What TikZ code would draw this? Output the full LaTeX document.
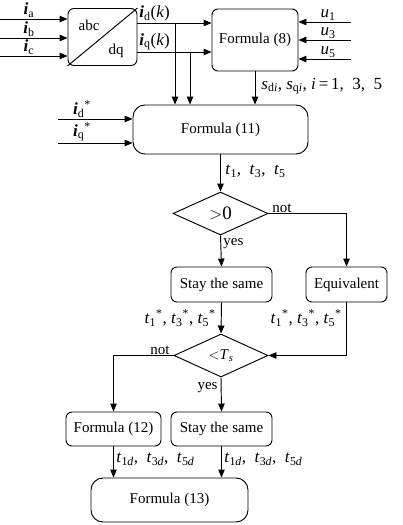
\documentclass[tikz,border=0pt]{standalone}
\usepackage{fontspec}
\setmainfont{Liberation Serif}
\usetikzlibrary{shapes.geometric,arrows.meta}
\newcommand{\bi}{\textbf{\textit{i}}}
\newcommand{\tv}[1]{\textit{t}\textsubscript{#1}}
\newcommand{\ts}[1]{\textit{t}\textsubscript{#1}\textsuperscript{*}}
\newcommand{\td}[1]{\textit{t}\textsubscript{#1\textit{d}}}
\begin{document}
\begin{tikzpicture}[x=1pt,y=-1pt,font=\fontsize{15}{18}\selectfont,
  line width=0.95pt,
  arr/.style={-{Triangle[length=8pt,width=6.5pt]}},
  box/.style={draw, rounded corners=6pt, inner sep=0pt, align=center},
  bigbox/.style={box, rounded corners=12pt},
  dia/.style={draw, diamond, aspect=2.2, inner sep=0pt},
  lab/.style={inner sep=1pt, font=\fontsize{17}{20}\selectfont}]
\useasboundingbox (0,0) rectangle (403,525);
% nodes
\node[box, minimum width=69pt, minimum height=57pt] (abc) at (102.5,37) {};
\draw (abc.south west) -- (abc.north east);
\node (abct) at (89,25) {abc};
\node (dqt) at (116,51) {dq};
\node[box, minimum width=86pt, minimum height=62pt] (f8) at (255,40) {Formula (8)};
\node[bigbox, minimum width=175pt, minimum height=49pt] (f11) at (220.5,129.5) {Formula (11)};
\node[dia, minimum width=95pt, minimum height=43pt] (d1) at (220.5,213.5) {\fontsize{19}{20}\selectfont$>$0};
\node[box, minimum width=101pt, minimum height=35pt] (s1) at (221.5,284.5) {Stay the same};
\node[box, minimum width=81pt, minimum height=35pt] (eq) at (346.5,284.5) {Equivalent};
\node[dia, minimum width=94pt, minimum height=43pt] (d2) at (221,355.5) {$<$\textit{T}\textsubscript{\textit{s}}};
\node[box, minimum width=95pt, minimum height=34pt] (f12) at (113.5,429) {Formula (12)};
\node[box, minimum width=101pt, minimum height=34pt] (s2) at (221.5,429) {Stay the same};
\node[bigbox, minimum width=157pt, minimum height=44pt] (f13) at (169.5,500) {Formula (13)};
% inputs
\coordinate (ia) at (0,19);
\coordinate (ib) at (0,38);
\coordinate (ic) at (0,56);
\draw[arr] (ia) -- (ia -| abc.west);
\draw[arr] (ib) -- (ib -| abc.west);
\draw[arr] (ic) -- (ic -| abc.west);
\node[lab, anchor=south] (la) at (29,19) {\bi\textsubscript{a}};
\node[lab, anchor=south] (lb) at (29,38) {\bi\textsubscript{b}};
\node[lab, anchor=south] (lc) at (29,56) {\bi\textsubscript{c}};
% id iq
\coordinate (idk) at (137,23);
\coordinate (iqk) at (137,52);
\draw[arr] (idk) -- (idk -| f8.west);
\draw[arr] (iqk) -- (iqk -| f8.west);
\node[lab, anchor=south west] (lid) at (138,23) {\bi\textsubscript{d}(\textit{k})};
\node[lab, anchor=south west] (liq) at (138,52) {\bi\textsubscript{q}(\textit{k})};
\coordinate (dr1) at (175,23);
\coordinate (dr2) at (190,52);
\draw[arr] (dr1) -- (dr1 |- f11.north);
\draw[arr] (dr2) -- (dr2 |- f11.north);
% u inputs
\coordinate (u1) at (351,22);
\coordinate (u3) at (351,40);
\coordinate (u5) at (351,59);
\draw[arr] (u1) -- (u1 -| f8.east);
\draw[arr] (u3) -- (u3 -| f8.east);
\draw[arr] (u5) -- (u5 -| f8.east);
\node[lab, anchor=south] (lu1) at (328,22) {\textit{u}\textsubscript{1}};
\node[lab, anchor=south] (lu3) at (328,40) {\textit{u}\textsubscript{3}};
\node[lab, anchor=south] (lu5) at (328,59) {\textit{u}\textsubscript{5}};
\draw[arr] (f8.south) -- (f8.south |- f11.north);
\node[lab, anchor=west] (ls) at (260,86) {\textit{s}\textsubscript{d\textit{i}}, \textit{s}\textsubscript{q\textit{i}}, \textit{i}\,=\,1,\ \ 3,\ \ 5};
% id* iq*
\coordinate (ids) at (58,119);
\coordinate (iqs) at (58,143);
\draw[arr] (ids) -- (ids -| f11.west);
\draw[arr] (iqs) -- (iqs -| f11.west);
\node[lab, anchor=south] (lids) at (82,119) {\bi\textsubscript{d}\textsuperscript{*}};
\node[lab, anchor=south] (liqs) at (82,143) {\bi\textsubscript{q}\textsuperscript{*}};
% flow
\draw[arr] (f11.south) -- (d1.north);
\node[lab, anchor=west] (lt) at (224,171) {\tv1,\ \ \tv3,\ \ \tv5};
\coordinate (c1) at (eq.north |- d1.east);
\draw[arr] (d1.east) -- (c1) -- (eq.north);
\node[lab, anchor=south west, font=\fontsize{15}{18}\selectfont] (n1) at (271,214) {not};
\draw[arr] (d1.south) -- (s1.north);
\node[lab, anchor=west, font=\fontsize{15}{18}\selectfont] (y1) at (222,244) {yes};
\draw[arr] (s1.south) -- (d2.north);
\node[lab, anchor=east] (lts1) at (217,318) {\ts1,\ \ts3,\ \ts5};
\coordinate (c2) at (eq.south |- d2.east);
\draw[arr] (eq.south) -- (c2) -- (d2.east);
\node[lab, anchor=east] (lts2) at (343,318) {\ts1,\ \ts3,\ \ts5};
\coordinate (c3) at (f12.north |- d2.west);
\draw[arr] (d2.west) -- (c3) -- (f12.north);
\node[lab, anchor=south east, font=\fontsize{15}{18}\selectfont] (n2) at (171,356) {not};
\draw[arr] (d2.south) -- (s2.north);
\node[lab, anchor=east, font=\fontsize{15}{18}\selectfont] (y2) at (219,388) {yes};
\draw[arr] (f12.south) -- (f12.south |- f13.north);
\draw[arr] (s2.south) -- (s2.south |- f13.north);
\node[lab, anchor=west] (ld1) at (115,459) {\td1,\ \ \td3,\ \ \td5};
\node[lab, anchor=west] (ld2) at (223,459) {\td1,\ \ \td3,\ \ \td5};
\end{tikzpicture}
\end{document}
